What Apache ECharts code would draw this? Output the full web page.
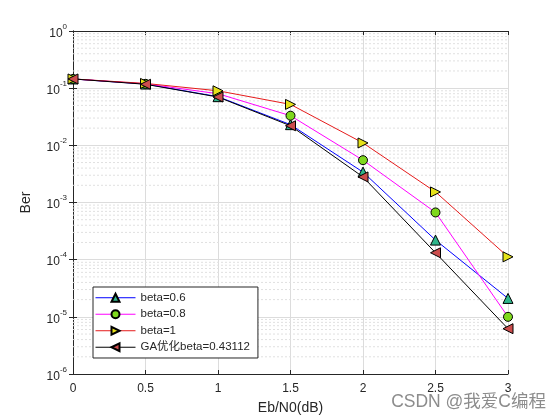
<!DOCTYPE html>
<html><head><meta charset="utf-8">
<script src="https://cdn.jsdelivr.net/npm/echarts@6/dist/echarts.min.js"></script>
<style>html,body{margin:0;padding:0;background:#fff}#c{width:560px;height:420px}</style>
</head><body><div id="c"></div>
<script>
const snr = [0, 0.5, 1, 1.5, 2, 2.5, 3];
const beta06 = [0.145, 0.118, 0.071, 0.023, 0.0034, 0.00022, 2.1e-5];
const beta08 = [0.145, 0.119, 0.080, 0.033, 0.0055, 0.00067, 1.0e-5];
const beta10 = [0.145, 0.121, 0.090, 0.052, 0.011, 0.00153, 0.000112];
const betaGA = [0.145, 0.117, 0.070, 0.022, 0.0028, 0.000132, 6.2e-6];
const names = ['beta=0.6', 'beta=0.8', 'beta=1', 'GA优化beta=0.43112'];
const xTicks = [0, 0.5, 1, 1.5, 2, 2.5, 3];
const decades = [-6, -5, -4, -3, -2, -1];
const minorMultipliers = [2, 3, 4, 5, 6, 7, 8, 9];

// minor log grid lines (dotted), drawn through the axes as a broken line series
const minorGrid = [];
decades.forEach(d => minorMultipliers.forEach(m => {
  const v = m * Math.pow(10, d);
  minorGrid.push([0, v], [3, v], [3, '-']);
}));

const font = 'Arial, "Liberation Sans", "Noto Sans CJK SC", sans-serif';
const ax = '#262626';
const pair = a => snr.map((x, i) => [x, a[i]]);

const chart = echarts.init(document.getElementById('c'));
chart.setOption({
  animation: false,
  textStyle: {fontFamily: font},
  grid: {left: 73, right: 52, top: 31, bottom: 45, show: false},
  xAxis: [{
    type: 'value', min: 0, max: 3, interval: 0.5,
    name: 'Eb/N0(dB)', nameLocation: 'middle', nameGap: 27,
    nameTextStyle: {fontSize: 14, color: ax, fontFamily: font},
    axisLine: {show: true, lineStyle: {color: ax, width: 1}},
    axisTick: {show: true, inside: true, length: 4, lineStyle: {color: ax}},
    axisLabel: {color: ax, fontSize: 12, margin: 9, fontFamily: font,
      formatter: v => xTicks.includes(v) ? String(v) : ''},
    splitLine: {show: true, lineStyle: {color: '#dcdcdc', width: 1}}
  }, {
    type: 'value', min: 0, max: 3, interval: 0.5, position: 'top',
    axisLine: {show: true, onZero: false, lineStyle: {color: ax, width: 1}},
    axisTick: {show: true, inside: true, length: 4, lineStyle: {color: ax}},
    axisLabel: {show: false}, splitLine: {show: false}
  }],
  yAxis: [{
    type: 'log', logBase: 10, min: 1e-6, max: 1, interval: 1,
    name: 'Ber', nameLocation: 'middle', nameGap: 40,
    nameTextStyle: {fontSize: 14, color: ax, fontFamily: font},
    axisLine: {show: true, lineStyle: {color: ax, width: 1}},
    axisTick: {show: true, inside: true, length: 4, lineStyle: {color: ax}},
    axisLabel: {
      color: ax, margin: 6, fontFamily: font,
      formatter: v => '{b|10}{s|' + Math.round(Math.log10(v)) + '}',
      rich: {
        b: {fontSize: 12, color: ax, fontFamily: font, verticalAlign: 'bottom'},
        s: {fontSize: 8, color: ax, fontFamily: font, padding: [0, 0, 9, 0], verticalAlign: 'bottom'}
      }
    },
    splitLine: {show: true, lineStyle: {color: '#dcdcdc', width: 1}}
  }, {
    type: 'log', logBase: 10, min: 1e-6, max: 1, interval: 1, position: 'right',
    axisLine: {show: true, lineStyle: {color: ax, width: 1}},
    axisTick: {show: true, inside: true, length: 4, lineStyle: {color: ax}},
    axisLabel: {show: false}, splitLine: {show: false}
  }],
  legend: {
    orient: 'vertical', left: 93, top: 287,
    data: names,
    itemWidth: 40, itemHeight: 10, itemGap: 5,
    padding: [5, 8, 5, 2],
    lineStyle: {width: 1},
    backgroundColor: '#fff', borderColor: ax, borderWidth: 1,
    textStyle: {fontSize: 11.5, color: ax, fontFamily: font},
    inactiveColor: '#999'
  },
  graphic: [{
    type: 'text', right: 13, top: 392, z: 100,
    style: {text: 'CSDN @我爱C编程', fontSize: 17.5, fill: '#8c8c8c',
      stroke: '#fff', lineWidth: 2, fontFamily: font}
  }],
  series: [
    {type: 'line', name: '_minor', silent: true, data: minorGrid, z: 1,
     symbol: 'none', connectNulls: false,
     lineStyle: {color: '#e0e0e0', type: [2, 2], width: 1}},
    {type: 'line', name: names[0], data: pair(beta06), color: '#0000ff',
     lineStyle: {width: 1, color: '#0000ff'}, symbol: 'triangle', symbolSize: 10,
     itemStyle: {color: '#2fb58b', borderColor: '#000', borderWidth: 1}, z: 3},
    {type: 'line', name: names[1], data: pair(beta08), color: '#ff00ff',
     lineStyle: {width: 1, color: '#ff00ff'}, symbol: 'circle', symbolSize: 9,
     itemStyle: {color: '#7fd81e', borderColor: '#000', borderWidth: 1}, z: 3},
    {type: 'line', name: names[2], data: pair(beta10), color: '#ff0000',
     lineStyle: {width: 1, color: '#e51b1b'}, symbol: 'triangle', symbolSize: 10, symbolRotate: -90,
     itemStyle: {color: '#e6e21a', borderColor: '#000', borderWidth: 1}, z: 3},
    {type: 'line', name: names[3], data: pair(betaGA), color: '#000',
     lineStyle: {width: 1, color: '#000'}, symbol: 'triangle', symbolSize: 10, symbolRotate: 90,
     itemStyle: {color: '#cc4d4d', borderColor: '#000', borderWidth: 1}, z: 4}
  ]
});
</script></body></html>
